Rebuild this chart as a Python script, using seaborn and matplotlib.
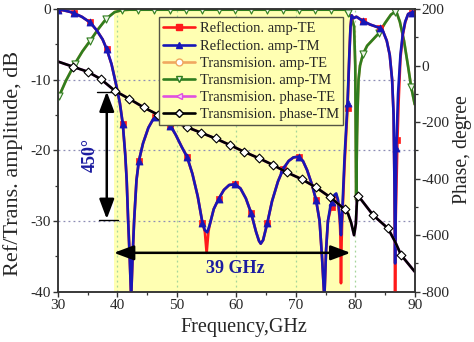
import matplotlib
matplotlib.use("Agg")
import matplotlib.pyplot as plt
from matplotlib.lines import Line2D
from matplotlib.ticker import MultipleLocator
import seaborn as sns

# ---------------- data ----------------
# Reflection amplitude, TM (dB)
refl_tm_freq = [30, 31, 32, 32.7, 34, 35.4, 36.5, 37.5, 38.2, 39, 39.8, 40.4, 40.9, 41.3, 41.55, 41.8,
                42.05, 42.3, 42.55, 42.8, 43.2, 43.6, 44.3, 45.2, 46.0, 46.6, 47.3, 48.1, 48.9, 49.8,
                50.8, 51.7, 52.6, 53.5, 54.3, 54.7, 55.1, 55.5, 56.2, 57.0, 57.9, 58.8, 59.8, 60.7,
                61.6, 62.5, 63.3, 63.8, 64.1, 64.5, 65.2, 66.0, 67.0, 67.9, 68.8, 69.6, 70.4, 71.2,
                71.9, 72.7, 73.4, 74.0, 74.4, 74.8, 75.1, 75.4, 75.8, 76.1, 76.5, 76.8, 77.1, 77.4,
                77.6, 77.8, 78.2, 78.7, 79.0, 79.2, 79.4, 79.7, 80.2, 81.3, 82.5, 84.2, 84.6, 85.3,
                85.8, 86.2, 86.45, 86.6, 86.7, 86.8, 86.9, 87.2, 87.6, 88.0, 88.4, 88.9, 89.5, 90]
refl_tm_db = [-0.05, -0.2, -0.4, -0.6, -1.1, -1.9, -3.0, -4.3, -5.7, -7.8, -10.8, -13.3, -16.3, -20.5, -24.2, -30,
              -35, -41, -35, -30, -24.2, -21.5, -19, -16.8, -15.6, -15.2, -15.3, -15.8, -16.5, -17.8,
              -19.5, -20.9, -23.3, -26.5, -30.3, -31.3, -31.6, -30.6, -28.3, -26.9, -25.6, -24.9, -24.8, -25.4,
              -26.8, -28.9, -31.5, -32.8, -33.2, -32.7, -30.3, -27.2, -24.4, -22.6, -21.5, -21.0, -20.9, -21.5,
              -22.8, -24.8, -27.0, -30, -35, -41, -34, -30, -28, -27.3, -26.3, -26.1, -27, -29.5,
              -32, -29, -21, -13.3, -6.5, -2.5, -0.9, -1.3, -1.1, -1.7, -2.2, -2.7, -3.0, -4.5,
              -6.5, -10, -15, -25, -36, -28, -19.7, -12, -6.5, -3.5, -1.8, -0.7, -0.5, -0.4]
refl_tm_mk_freq = [30.0, 32.7, 35.4, 38.2, 40.9, 43.6, 46.3, 48.9, 51.7, 54.3, 57.0, 59.8,
                   62.5, 65.2, 67.9, 70.6, 73.4, 76.1, 78.7, 81.3, 84.2, 86.9, 89.5]
refl_tm_mk_db = [-0.1, -0.6, -1.9, -5.7, -16.3, -21.5, -15.3, -16.5, -20.9, -30.3, -26.9, -24.8,
                 -28.9, -30.3, -22.6, -21.0, -27.0, -27.3, -13.3, -1.7, -2.7, -19.7, -0.5]

# Reflection amplitude, TE (dB)
refl_te_freq = [30, 31, 32, 32.7, 34, 35.4, 36.5, 37.5, 38.2, 39, 39.8, 40.4, 40.9, 41.3, 41.55, 41.8,
                42.05, 42.3, 42.55, 42.8, 43.2, 43.6, 44.3, 45.2, 46.0, 46.6, 47.3, 48.1, 48.9, 49.8,
                50.8, 51.7, 52.6, 53.5, 54.3, 54.7, 55.0, 55.3, 55.5, 56.2, 57.0, 57.9, 58.8, 59.8, 60.7,
                61.6, 62.5, 63.3, 63.8, 64.1, 64.5, 65.2, 66.0, 67.0, 67.9, 68.8, 69.6, 70.4, 71.2,
                71.9, 72.7, 73.4, 74.0, 74.4, 74.8, 75.1, 75.4, 75.8, 76.1, 76.5, 76.8, 77.1, 77.4,
                77.5, 77.6, 77.7, 77.8, 78.2, 78.7, 79.0, 79.2, 79.4, 79.7, 80.2, 81.3, 82.5, 84.2, 84.6, 85.3,
                85.8, 86.2, 86.45, 86.6, 86.7, 86.8, 87.1, 87.3, 87.6, 88.0, 88.4, 88.9, 89.5, 90]
refl_te_db = [-0.05, -0.2, -0.4, -0.6, -1.1, -1.9, -3.0, -4.3, -5.7, -7.8, -10.8, -13.3, -16.3, -20.5, -24.2, -30,
              -35, -41, -35, -30, -24.2, -21.5, -19, -16.8, -15.6, -15.2, -15.3, -15.8, -16.5, -17.8,
              -19.5, -20.9, -23.3, -26.5, -30.3, -31.5, -34.5, -31.5, -30.6, -28.3, -26.9, -25.6, -24.9, -24.8, -25.4,
              -26.8, -28.9, -31.5, -32.8, -33.2, -32.7, -30.3, -27.2, -24.4, -22.6, -21.5, -21.0, -20.9, -21.5,
              -22.8, -24.8, -27.0, -30, -35, -41, -34, -30, -28.5, -28.0, -26.6, -26.3, -27.2, -30,
              -32, -38.8, -33, -30, -22, -14.0, -6.8, -2.6, -0.9, -1.3, -1.1, -1.7, -2.2, -2.7, -3.0, -4.5,
              -6.5, -10, -15, -25, -41, -30, -18.5, -13, -7, -3.7, -1.9, -0.7, -0.5, -0.4]
refl_te_mk_freq = [30.0, 32.7, 35.4, 38.2, 40.9, 43.6, 46.3, 48.9, 51.7, 54.3, 57.0, 59.8,
                   62.5, 65.2, 67.9, 70.6, 73.4, 76.1, 78.7, 81.3, 84.2, 87.1, 89.5]
refl_te_mk_db = [-0.1, -0.6, -1.9, -5.7, -16.3, -21.5, -15.3, -16.5, -20.9, -30.3, -26.9, -24.8,
                 -28.9, -30.3, -22.6, -21.0, -27.0, -28.0, -14.0, -1.7, -2.7, -18.5, -0.5]

# Transmission amplitude, TM (dB)
trans_tm_freq = [30, 30.2, 31.3, 32.8, 34.1, 35.4, 36.8, 38.1, 39.5, 40.8, 42, 78.3, 78.8, 79.4,
                 79.8, 80.0, 80.15, 80.3, 80.4, 80.55, 80.8, 81.3, 82.0, 83.0, 84.0, 85.0, 86.0,
                 86.7, 87.0, 87.5, 88.2, 88.9, 89.4, 90]
trans_tm_db = [-12.5, -12.3, -10.2, -7.8, -6.0, -4.5, -2.8, -1.4, -0.45, -0.15, -0.1, -0.1, -0.6, -1.2,
               -2.5, -8, -27, -18, -14, -10, -8.0, -6.4, -5.2, -4.3, -3.4, -2.0, -0.8,
               -0.4, -0.6, -1.8, -4.5, -8.2, -11.0, -13.5]
trans_tm_mk_freq = [30.2, 32.8, 35.4, 38.1, 40.8, 43.5, 46.2, 48.9, 51.6, 54.3, 57.0, 59.7,
                    62.4, 65.1, 67.8, 70.5, 73.2, 76.0, 78.8, 81.3, 84.0, 86.7, 89.4]
trans_tm_mk_db = [-12.3, -7.8, -4.5, -1.4, -0.15, -0.1, -0.1, -0.1, -0.1, -0.1, -0.1, -0.1,
                  -0.1, -0.1, -0.1, -0.1, -0.1, -0.1, -0.6, -6.4, -3.4, -0.4, -11.0]

# Transmission amplitude, TE (dB) - lies under the TM curve
trans_te_freq = [30, 30.2, 31.3, 32.8, 34.1, 35.4, 36.8, 38.1, 39.5, 40.8, 42, 78.3, 78.8, 79.4,
                 79.8, 80.0, 80.15, 80.3, 80.4, 80.55, 80.8, 81.3, 82.0, 83.0, 84.0, 85.0, 86.0,
                 86.7, 87.0, 87.5, 88.2, 88.9, 89.4, 90]
trans_te_db = [-12.5, -12.3, -10.2, -7.8, -6.0, -4.5, -2.8, -1.4, -0.45, -0.15, -0.1, -0.1, -0.6, -1.2,
               -2.5, -8, -27, -18, -14, -10, -8.0, -6.4, -5.2, -4.3, -3.4, -2.0, -0.8,
               -0.4, -0.6, -1.8, -4.5, -8.2, -11.0, -13.5]

# Transmission phase, TM (degree)
phase_tm_freq = [30, 32.5, 35.0, 37.2, 39.6, 42.0, 44.4, 46.9, 49.3, 51.7, 54.1, 56.5, 58.9, 61.3,
                 63.8, 66.2, 68.5, 71.0, 73.4, 75.8, 78.2, 78.8, 79.3, 79.8, 80.1, 80.3, 80.5,
                 83.0, 85.5, 86.7, 87.7, 90]
phase_tm_deg = [14, -4, -22, -48, -90, -118, -148, -175, -196, -218, -238, -258, -281, -305,
                -328, -352, -378, -402, -431, -466, -508, -525, -555, -600, -560, -470, -461,
                -529, -576, -623, -670, -729]
phase_tm_mk_freq = [32.5, 35.0, 37.2, 39.6, 42.0, 44.4, 46.9, 49.3, 51.7, 54.1, 56.5, 58.9, 61.3,
                    63.8, 66.2, 68.5, 71.0, 73.4, 75.8, 78.2, 80.5, 83.0, 85.5, 87.7]
phase_tm_mk_deg = [-4, -22, -48, -90, -118, -148, -175, -196, -218, -238, -258, -281, -305,
                   -328, -352, -378, -402, -431, -466, -508, -461, -529, -576, -670]

# Transmission phase, TE (degree) - lies under the TM curve
phase_te_freq = [30, 32.5, 35.0, 37.2, 39.6, 42.0, 44.4, 46.9, 49.3, 51.7, 54.1, 56.5, 58.9, 61.3,
                 63.8, 66.2, 68.5, 71.0, 73.4, 75.8, 78.2, 78.8, 79.3, 79.8, 80.1, 80.3, 80.5,
                 83.0, 85.5, 86.7, 87.7, 90]
phase_te_deg = [14, -4, -22, -48, -90, -118, -148, -175, -196, -218, -238, -258, -281, -305,
                -328, -352, -378, -402, -431, -466, -508, -525, -555, -600, -560, -470, -461,
                -529, -576, -623, -670, -729]

legend_labels = ["Reflection. amp-TE", "Reflection. amp-TM", "Transmision. amp-TE",
                 "Transmision. amp-TM", "Transmision. phase-TE", "Transmision. phase-TM"]
x_ticks = [30, 40, 50, 60, 70, 80, 90]
db_ticks = [-40, -30, -20, -10, 0]
deg_ticks = [-800, -600, -400, -200, 0, 200]

# ---------------- style ----------------
sns.set_style("ticks")
plt.rcParams["font.family"] = ["Liberation Serif", "DejaVu Serif"]
plt.rcParams["axes.unicode_minus"] = False

C_RED = "#ff1a1a"
C_BLUE = "#1717b8"
C_ORANGE = "#f0a860"
C_GREEN = "#2f7d1f"
C_MAG = "#e050e0"
C_BLACK = "#000000"
C_YEL = "#ffffb2"
C_TXT = "#1c1ca0"

fig = plt.figure(figsize=(4.74, 3.42), dpi=100)
ax = fig.add_axes([0.1224, 0.1471, 0.8749 - 0.1224, 0.9737 - 0.1471])
ax2 = ax.twinx()

ax.set_xlim(30, 90)
ax.set_ylim(-40, 0)
ax2.set_ylim(-800, 200)

# shaded passband + grid
ax.axvspan(39.4, 79.2, color=C_YEL, zorder=0, lw=0)
for yv in [-10, -20, -30]:
    ax.axhline(yv, color="#8c8cb4", lw=0.9, ls=(0, (1.5, 2.5)), zorder=0.5)
for xv in [40, 50, 60, 70, 80]:
    ax.axvline(xv, color="#a5d59a", lw=0.9, ls=(0, (1.5, 2.5)), zorder=0.5)

LW = 1.9
# amplitude curves (left axis)
sns.lineplot(x=trans_te_freq, y=trans_te_db, ax=ax, color=C_ORANGE, lw=LW, sort=False, estimator=None, zorder=2)
sns.lineplot(x=trans_tm_freq, y=trans_tm_db, ax=ax, color=C_GREEN, lw=LW, sort=False, estimator=None, zorder=2.1)
sns.scatterplot(x=trans_tm_mk_freq, y=trans_tm_mk_db, ax=ax, marker="v", s=26, color="#eef6e6",
                edgecolor=C_GREEN, linewidth=0.8, zorder=2.2)
sns.lineplot(x=refl_te_freq, y=refl_te_db, ax=ax, color=C_RED, lw=LW, sort=False, estimator=None, zorder=3)
sns.scatterplot(x=refl_te_mk_freq, y=refl_te_mk_db, ax=ax, marker="s", s=18, color=C_RED,
                edgecolor=C_RED, linewidth=0.5, zorder=3.1)
sns.lineplot(x=refl_tm_freq, y=refl_tm_db, ax=ax, color=C_BLUE, lw=LW, sort=False, estimator=None, zorder=3.2)
sns.scatterplot(x=refl_tm_mk_freq, y=refl_tm_mk_db, ax=ax, marker="^", s=26, color=C_BLUE,
                edgecolor=C_BLUE, linewidth=0.5, zorder=3.3)

# phase curves (right axis)
sns.lineplot(x=phase_te_freq, y=phase_te_deg, ax=ax2, color=C_MAG, lw=LW, sort=False, estimator=None, zorder=2)
sns.lineplot(x=phase_tm_freq, y=phase_tm_deg, ax=ax2, color=C_BLACK, lw=LW, sort=False, estimator=None, zorder=2.1)
sns.scatterplot(x=phase_tm_mk_freq, y=phase_tm_mk_deg, ax=ax2, marker="D", s=20, color="white",
                edgecolor=C_BLACK, linewidth=0.8, zorder=2.2)

# annotations: 450 degree arrow (phase axis)
ax2.annotate("", xy=(38.2, -92), xytext=(38.2, -543),
             arrowprops=dict(arrowstyle="<|-|>,head_length=0.8,head_width=0.3", color="black",
                             lw=1.8, shrinkA=0, shrinkB=0, mutation_scale=15))
ax2.plot([36.5, 39.6], [-92, -92], color="black", lw=1.0)
ax2.plot([36.9, 40.1], [-545, -545], color="black", lw=1.0)
ax.text(35.4, -20.7, "450°", color=C_TXT, fontsize=13, fontweight="bold",
        rotation=90, ha="center", va="center")

# annotations: 39 GHz bandwidth arrow
ax.annotate("", xy=(39.4, -34.5), xytext=(79.2, -34.5),
            arrowprops=dict(arrowstyle="<|-|>,head_length=0.8,head_width=0.3", color="black",
                            lw=1.8, shrinkA=0, shrinkB=0, mutation_scale=15), zorder=4)
ax.text(59.8, -36.7, "39 GHz", color=C_TXT, fontsize=13, fontweight="bold",
        ha="center", va="center", zorder=4)

# axes formatting
ax.set_xticks(x_ticks)
ax.set_yticks(db_ticks)
ax2.set_yticks(deg_ticks)
ax.xaxis.set_minor_locator(MultipleLocator(5))
ax.yaxis.set_minor_locator(MultipleLocator(5))
ax2.yaxis.set_minor_locator(MultipleLocator(100))
for a in (ax, ax2):
    a.tick_params(which="major", direction="out", length=3.5, width=1.0, labelsize=11, pad=1.5, color="#333333")
    a.tick_params(which="minor", direction="out", length=2.0, width=0.9, color="#333333")
    for sp in a.spines.values():
        sp.set_color("#333333")
        sp.set_linewidth(1.1)
ax.set_xlabel("Frequency,GHz", fontsize=14.5)
ax.set_ylabel("Ref/Trans. amplitude, dB", fontsize=16)
ax2.set_ylabel("Phase, degree", fontsize=14.2)
ax.xaxis.set_label_coords(0.52, -0.093)
ax.yaxis.set_label_coords(-0.098, 0.455)
ax2.yaxis.set_label_coords(1.108, 0.504)

# legend
handles = [
    Line2D([], [], color=C_RED, lw=LW, marker="s", ms=4, mfc=C_RED, mec=C_RED),
    Line2D([], [], color=C_BLUE, lw=LW, marker="^", ms=5, mfc=C_BLUE, mec=C_BLUE),
    Line2D([], [], color=C_ORANGE, lw=LW, marker="o", ms=5, mfc="white", mec=C_ORANGE),
    Line2D([], [], color=C_GREEN, lw=LW, marker="v", ms=5, mfc="#eef6e6", mec=C_GREEN),
    Line2D([], [], color=C_MAG, lw=LW, marker="<", ms=5, mfc="#f6d6f6", mec=C_MAG),
    Line2D([], [], color=C_BLACK, lw=LW, marker="D", ms=4, mfc="white", mec=C_BLACK),
]
leg = ax2.legend(handles, legend_labels, loc="upper left", bbox_to_anchor=(0.283, 0.972),
                 borderaxespad=0, fontsize=10.5, handlelength=2.2, handletextpad=0.3,
                 labelspacing=0.26, borderpad=0.3, fancybox=False, framealpha=1,
                 facecolor=C_YEL, edgecolor="#555544")
leg.get_frame().set_linewidth(1.0)

fig.savefig("out.png", dpi=100)
